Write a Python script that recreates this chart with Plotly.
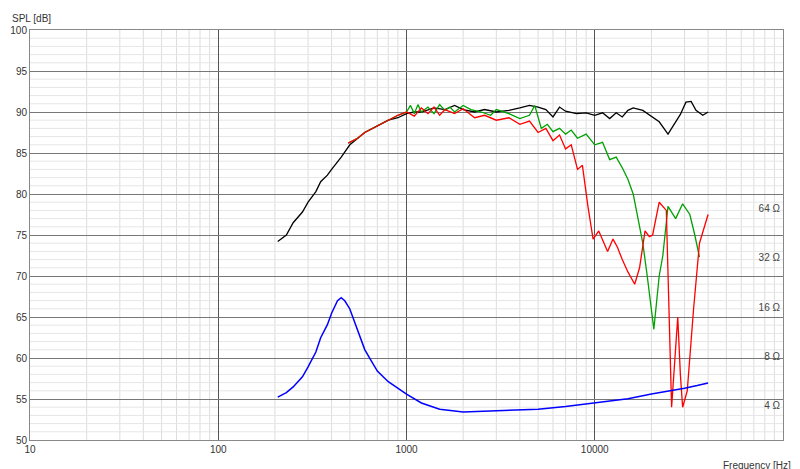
import plotly.graph_objs as go
import numpy as np

# frequency response curves (Hz, dB)
black_f = [207, 230, 250, 280, 300, 330, 350, 380, 400, 450, 500, 550, 600, 700, 800, 900, 1000, 1100, 1200,
           1400, 1600, 1800, 2000, 2300, 2600, 3000, 3500, 4000, 4500, 5000, 5500, 6000, 6500, 7000, 8000,
           9000, 10000, 11000, 12000, 13000, 14000, 15000, 16000, 18000, 20000, 22000, 24500, 26500,
           28500, 30500, 32500, 34500, 37500, 40000]
black_db = [74.2, 75.0, 76.5, 77.8, 79.0, 80.3, 81.5, 82.3, 83.0, 84.5, 86.0, 86.8, 87.5, 88.3, 89.0, 89.3,
            89.8, 90.0, 90.0, 90.5, 90.3, 90.8, 90.3, 90.0, 90.3, 90.0, 90.2, 90.5, 90.8, 90.6, 90.3, 89.4,
            90.6, 90.1, 89.8, 89.9, 89.6, 89.9, 89.2, 89.9, 89.4, 90.2, 90.5, 90.2, 89.5, 88.8, 87.3, 88.5,
            89.7, 91.2, 91.3, 90.2, 89.6, 90.0]

green_f = [490, 550, 600, 700, 800, 900, 1000, 1050, 1100, 1150, 1200, 1300, 1400, 1500, 1600, 1700, 1800,
           2000, 2200, 2500, 2800, 3000, 3500, 4000, 4500, 4800, 5200, 5600, 6000, 6500, 7000, 7500,
           8100, 9000, 10000, 11000, 12000, 13000, 14000, 15000, 16000, 17100, 18000, 19000, 20600,
           22000, 23000, 24500, 26900, 29300, 32000, 34000, 36000]
green_db = [86.2, 86.8, 87.5, 88.3, 89.0, 89.6, 90.0, 90.8, 89.8, 90.9, 90.0, 90.6, 89.8, 90.9, 90.2, 90.6,
            90.0, 90.8, 90.3, 90.0, 89.6, 90.3, 89.8, 89.2, 89.6, 90.8, 88.0, 88.5, 87.6, 88.0, 87.3, 87.8,
            86.8, 87.3, 86.0, 86.3, 84.2, 84.5, 83.2, 81.8, 80.0, 76.5, 74.0, 70.0, 63.5, 70.0, 72.5, 78.5,
            77.0, 78.8, 77.5, 75.0, 72.3]

red_f = [490, 550, 600, 700, 800, 900, 1000, 1100, 1200, 1300, 1400, 1500, 1600, 1800, 2000, 2300, 2600,
         3000, 3500, 4000, 4500, 5000, 5500, 6000, 6500, 7000, 7500, 8100, 8600, 9200, 9800, 10500,
         11700, 12500, 13200, 14000, 15000, 16300, 17300, 18500, 19500, 20300, 22000, 24000, 25600,
         26600, 27600, 28500, 29300, 31000, 33500, 36000, 40000]
red_db = [86.2, 86.8, 87.5, 88.3, 89.0, 89.6, 90.0, 89.5, 90.5, 89.8, 90.6, 89.6, 90.3, 89.8, 90.4, 89.3,
          89.6, 89.0, 89.3, 88.5, 88.9, 87.5, 88.0, 86.5, 87.2, 85.5, 86.0, 83.0, 83.5, 78.5, 74.5, 75.5,
          73.0, 74.5, 73.5, 72.0, 70.5, 69.0, 71.0, 75.5, 74.8, 75.0, 79.0, 78.0, 54.0, 60.0, 65.0, 58.0,
          54.0, 56.0, 66.0, 74.0, 77.5]

# impedance curve (Hz, ohm)
imp_f = [207, 230, 250, 280, 300, 330, 350, 380, 400, 430, 450, 470, 500, 550, 600, 650, 700, 800, 900,
         1000, 1200, 1500, 2000, 3000, 5000, 7000, 10000, 15000, 20000, 25000, 30000, 35000, 40000]
imp_ohm = [4.5, 4.8, 5.2, 6.0, 6.9, 8.5, 10.4, 12.5, 14.7, 17.5, 18.3, 17.5, 15.6, 11.5, 8.8, 7.5, 6.5,
           5.6, 5.1, 4.7, 4.15, 3.8, 3.65, 3.7, 3.8, 3.95, 4.15, 4.4, 4.7, 4.9, 5.1, 5.3, 5.5]

x_ticks = [10, 100, 1000, 10000, 100000]
ohm_ticks = [4, 8, 16, 32, 64]

minor_x = [m * 10 ** d for d in range(1, 5) for m in range(2, 10)]

fig = go.Figure()
fig.add_trace(go.Scatter(x=black_f, y=black_db, mode='lines', line=dict(color='black', width=1.3)))
fig.add_trace(go.Scatter(x=green_f, y=green_db, mode='lines', line=dict(color='#00a000', width=1.3)))
fig.add_trace(go.Scatter(x=red_f, y=red_db, mode='lines', line=dict(color='#ff0000', width=1.3)))
fig.add_trace(go.Scatter(x=imp_f, y=imp_ohm, mode='lines', yaxis='y2', line=dict(color='#0000ff', width=1.5)))

shapes = []
for f in minor_x:
    shapes.append(dict(type='line', xref='x', yref='paper', x0=f, x1=f, y0=0, y1=1,
                       line=dict(color='#dddddd', width=1), layer='below'))
for d in np.arange(51, 100, 1):
    if d % 5:
        shapes.append(dict(type='line', xref='paper', yref='y', x0=0, x1=1, y0=d, y1=d,
                           line=dict(color='#e6e6e6', width=1), layer='below'))

fig.update_layout(
    width=800, height=469, showlegend=False,
    paper_bgcolor='white', plot_bgcolor='white',
    margin=dict(l=22, r=25, t=22, b=37),
    font=dict(family='Liberation Sans, Arial', size=10, color='#333'),
    shapes=shapes,
    xaxis=dict(type='log', range=[1, 5], tickvals=x_ticks, ticktext=[str(t) for t in x_ticks],
               showgrid=True, gridcolor='#555', gridwidth=1, mirror=True, showline=True,
               linecolor='#888', ticks='', zeroline=False, automargin=False),
    yaxis=dict(range=[50, 100], dtick=5, showgrid=True, gridcolor='#777', gridwidth=1,
               mirror=True, showline=True, linecolor='#888', ticks='', zeroline=False,
               automargin=False),
    yaxis2=dict(type='log', overlaying='y', side='right',
                range=[np.log10(4) - 4.2 / 6 * np.log10(2), np.log10(4) + 45.8 / 6 * np.log10(2)],
                tickvals=ohm_ticks, ticktext=[f'{t} Ω' for t in ohm_ticks], showgrid=False,
                ticks='', zeroline=False, ticklabelposition='inside', automargin=False),
    annotations=[
        dict(text='SPL [dB]', xref='paper', yref='paper', x=0, y=1, xanchor='left', yanchor='bottom',
             showarrow=False, xshift=-20, yshift=4),
        dict(text='Frequency [Hz]', xref='paper', yref='paper', x=1, y=0, xanchor='right', yanchor='top',
             showarrow=False, xshift=10, yshift=-18),
    ],
)

fig.write_html("out.html")
